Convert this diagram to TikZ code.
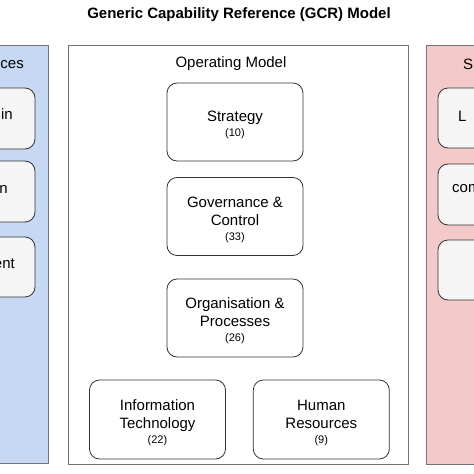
\documentclass[tikz,border=0pt]{standalone}
\usepackage{fontspec}
\setmainfont{Liberation Sans}
\definecolor{bluefill}{HTML}{C7D8F4}
\definecolor{pinkfill}{HTML}{F3C9C9}
\newcommand{\topstrut}{\rule{0pt}{17pt}}
\newcommand{\capnum}[1]{{\fontsize{11}{13}\selectfont (#1)}}
\begin{document}
\begin{tikzpicture}[x=1pt,y=-1pt,
  panel/.style={draw=black!55,line width=0.8pt},
  capbox/.style={draw=black!80,fill=white,rounded corners=10pt,line width=0.8pt,
    minimum width=136pt,minimum height=78pt,align=center,inner sep=0pt,
    font=\fontsize{15}{18}\selectfont},
  sidecap/.style={draw=black!80,fill=black!4,rounded corners=10pt,line width=0.8pt},
  lbl/.style={inner sep=0pt,font=\fontsize{15}{18}\selectfont},
]
\useasboundingbox (0,0) rectangle (474,474);
\begin{scope}
\clip (0,0) rectangle (474,474);
\node[font=\fontsize{15}{18}\selectfont\bfseries] (title) at (239,15) {Generic Capability Reference (GCR) Model};
% left panel
\draw[panel,fill=bluefill] (-20,45) rectangle (48,463);
\draw[sidecap] (-101,88) rectangle (35,149);
\draw[sidecap] (-101,161) rectangle (35,222);
\draw[sidecap] (-101,237) rectangle (35,297);
\node[lbl,anchor=east] (l0) at (24,65) {ces};
\node[lbl,anchor=east] (l1) at (13,114) {in};
\node[lbl,anchor=east] (l2) at (8,189) {n};
\node[lbl,anchor=east] (l3) at (15,264) {ent};
% right panel
\draw[panel,fill=pinkfill] (426,45) rectangle (500,464);
\draw[sidecap] (438,88) rectangle (574,148);
\draw[sidecap] (438,164) rectangle (574,225);
\draw[sidecap] (438,240) rectangle (574,300);
\node[lbl,anchor=west] (r0) at (463,64) {S};
\node[lbl,anchor=west] (r1) at (458,116) {L};
\node[lbl,anchor=west] (r2) at (452,189) {com};
% center panel
\draw[panel] (68,45) rectangle (408,464);
\node[lbl] (om) at (231,64) {Operating Model};
\node[capbox] (strat) at (235,122) {\topstrut Strategy\\[-3pt]\capnum{10}};
\node[capbox] (gov) at (235,216.5) {\topstrut Governance \&\\Control\\[-3pt]\capnum{33}};
\node[capbox] (org) at (235,318) {\topstrut Organisation \&\\Processes\\[-3pt]\capnum{26}};
\node[capbox,minimum height=79pt] (it) at (157.5,419.5) {\topstrut Information\\Technology\\[-3pt]\capnum{22}};
\node[capbox,minimum height=79pt] (hr) at (321.3,419.5) {\topstrut Human\\Resources\\[-3pt]\capnum{9}};
\end{scope}
\end{tikzpicture}
\end{document}
